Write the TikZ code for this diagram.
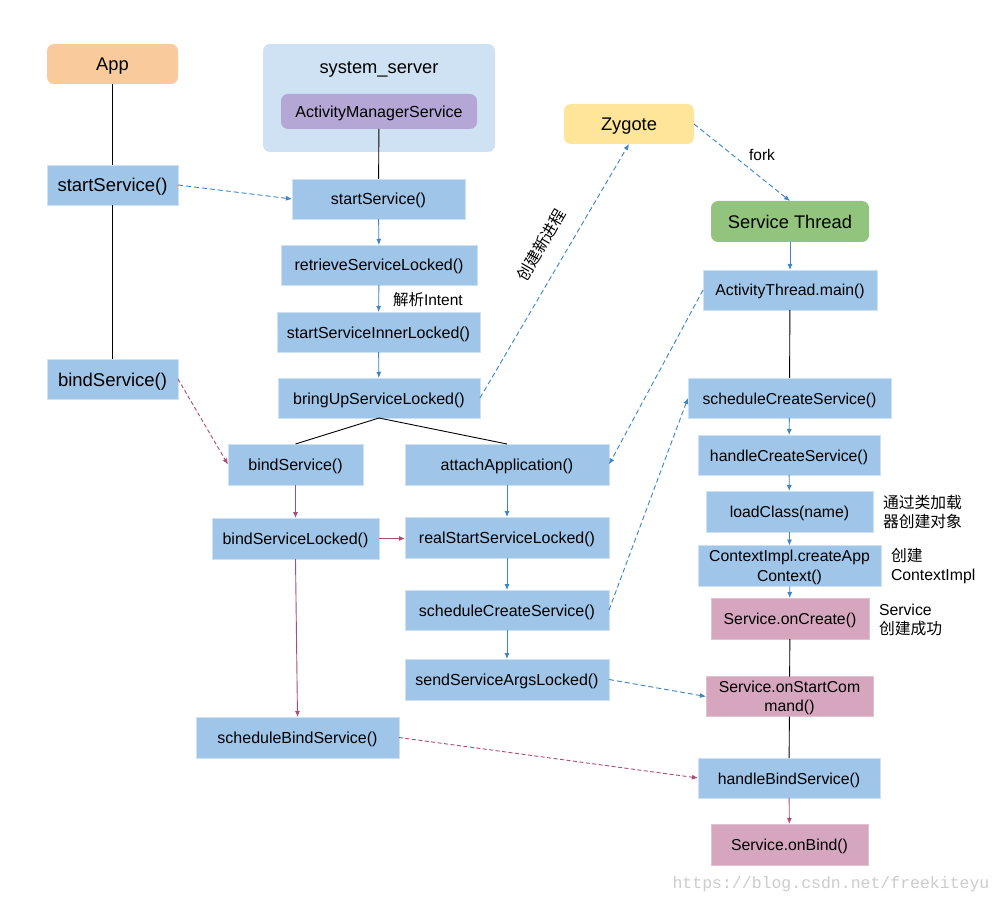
\documentclass[tikz,border=0pt]{standalone}
\usepackage{fontspec}
\setmainfont{Liberation Sans}
\newfontfamily\cjk{Noto Sans CJK SC}
\newfontfamily\wm{Liberation Mono}
\usetikzlibrary{arrows.meta}
\definecolor{boxblue}{HTML}{9FC5E8}
\definecolor{lightblue}{HTML}{CFE2F3}
\definecolor{orangebox}{HTML}{F9CB9C}
\definecolor{purplebox}{HTML}{B4A7D6}
\definecolor{yellowbox}{HTML}{FFE599}
\definecolor{greenbox}{HTML}{93C47D}
\definecolor{pinkbox}{HTML}{D5A6BD}
\definecolor{arrblue}{HTML}{3D85C6}
\definecolor{arrmag}{HTML}{A64D79}
\tikzset{
  every node/.style={inner sep=0pt, outer sep=0pt},
  hdsmall/.style={text height=14pt, text depth=2pt},
  hdbig/.style={text height=16pt, text depth=2pt},
  base/.style={fill=boxblue, draw=lightblue, line width=0.8pt, align=center},
  bx/.style={base, hdsmall, font=\fontsize{16}{18}\selectfont},
  rbx/.style={base, hdsmall, font=\fontsize{15.8}{20}\selectfont},
  multi/.style={base, text height=33pt, text depth=3pt, font=\fontsize{15.8}{19.5}\selectfont},
  pbx/.style={rbx, fill=pinkbox, draw=pinkbox!70!white},
  pmulti/.style={multi, fill=pinkbox, draw=pinkbox!70!white},
  big/.style={base, hdbig, font=\fontsize{18.5}{22}\selectfont},
  rnd/.style={hdbig, rounded corners=7pt, draw=none, align=center, font=\fontsize{18.3}{22}\selectfont},
  plain/.style={draw=black, line width=0.9pt},
  ab/.style={draw=arrblue, line width=0.9pt, -{Latex[length=6pt,width=5pt]}},
  am/.style={draw=arrmag, line width=0.9pt, -{Latex[length=6pt,width=5pt]}},
  dab/.style={ab, dash pattern=on 5pt off 3pt},
  dam/.style={am, dash pattern=on 4pt off 2.5pt},
  side/.style={align=left, anchor=west, font=\fontsize{15.8}{19}\selectfont},
}
\begin{document}
\begin{tikzpicture}[x=1pt,y=-1pt]
\useasboundingbox[fill=white] (0,0) rectangle (1002,904);
% top level
\node[rnd, fill=orangebox, minimum width=131pt, minimum height=40pt] (app) at (112.5,64) {App};
\node[rnd, fill=lightblue, minimum width=232pt, minimum height=108pt] (sys) at (379,98) {};
\node[hdbig, font=\fontsize{18.3}{22}\selectfont] (systxt) at (379,67) {system\_server};
\node[rnd, hdsmall, fill=purplebox, minimum width=196pt, minimum height=35pt, font=\fontsize{16}{18}\selectfont] (ams) at (379,111.5) {ActivityManagerService};
\node[rnd, fill=yellowbox, minimum width=130pt, minimum height=40pt] (zyg) at (629,124) {Zygote};
\node[rnd, fill=greenbox, minimum width=158pt, minimum height=41pt] (sth) at (790,221.5) {Service Thread};
% app column
\node[big, minimum width=131pt, minimum height=40pt] (appstart) at (112.5,185) {startService()};
\node[big, minimum width=131pt, minimum height=40pt] (appbind) at (112.5,379) {bindService()};
% middle column
\node[bx, minimum width=173pt, minimum height=40pt] (ss) at (378.5,199) {startService()};
\node[bx, minimum width=196pt, minimum height=40pt] (rsl) at (379,265) {retrieveServiceLocked()};
\node[bx, minimum width=203pt, minimum height=40pt] (sisl) at (378.5,332) {startServiceInnerLocked()};
\node[bx, minimum width=202pt, minimum height=40pt] (busl) at (379,398) {bringUpServiceLocked()};
\node[bx, minimum width=135pt, minimum height=41pt] (bs) at (295.5,464.5) {bindService()};
\node[bx, minimum width=204pt, minimum height=41pt] (aa) at (507,464.5) {attachApplication()};
\node[bx, minimum width=167pt, minimum height=41pt] (bsl) at (295.5,538.5) {bindServiceLocked()};
\node[bx, minimum width=204pt, minimum height=41pt] (rssl) at (507,537.5) {realStartServiceLocked()};
\node[bx, minimum width=204pt, minimum height=40pt] (scs1) at (507,610) {scheduleCreateService()};
\node[bx, minimum width=204pt, minimum height=41pt] (sal) at (507,679.5) {sendServiceArgsLocked()};
\node[bx, minimum width=203pt, minimum height=41pt] (sbs) at (297.5,737.5) {scheduleBindService()};
% right column
\node[rbx, minimum width=174pt, minimum height=40pt] (atm) at (790,290) {ActivityThread.main()};
\node[rbx, minimum width=203pt, minimum height=40pt] (scs2) at (789.5,398) {scheduleCreateService()};
\node[rbx, minimum width=182pt, minimum height=40pt] (hcs) at (789,455) {handleCreateService()};
\node[rbx, minimum width=167pt, minimum height=41pt] (lc) at (789.5,511.5) {loadClass(name)};
\node[multi, minimum width=183pt, minimum height=41pt] (ctx) at (789.5,566) {ContextImpl.createApp\\Context()};
\node[pbx, minimum width=158pt, minimum height=41pt] (onc) at (790,618.5) {Service.onCreate()};
\node[pmulti, minimum width=167pt, minimum height=40pt] (osc) at (789.5,696.5) {Service.onStartCom\\mand()};
\node[rbx, minimum width=182pt, minimum height=40pt] (hbs) at (789,778) {handleBindService()};
\node[pbx, minimum width=157pt, minimum height=41pt] (onb) at (789.5,844.5) {Service.onBind()};
% solid black lines
\draw[plain] (app) -- (appstart);
\draw[plain] (appstart) -- (appbind);
\draw[plain] (ams) -- (ss);
\draw[plain] (busl.south) -- (bs.north);
\draw[plain] (busl.south) -- (aa.north);
\draw[plain] (atm) -- (scs2);
\draw[plain] (onc) -- (osc);
\draw[plain] (osc) -- (hbs);
% blue arrows
\draw[ab] (ss) -- (rsl);
\draw[ab] (rsl) -- (sisl);
\draw[ab] (sisl) -- (busl);
\draw[ab] (aa) -- (rssl);
\draw[ab] (rssl) -- (scs1);
\draw[ab] (scs1) -- (sal);
\draw[ab] (sth) -- (atm);
\draw[ab] (scs2) -- (hcs);
\draw[ab] (hcs) -- (lc);
\draw[ab] (lc) -- (ctx);
\draw[ab] (ctx) -- (onc);
% magenta arrows
\draw[am] (bs) -- (bsl);
\draw[am] (bsl.east) -- (rssl.west |- bsl.east);
\draw[am] (bsl.south) -- (sbs.north);
\draw[am] (hbs) -- (onb);
% dashed arrows
\draw[dab] (appstart.east) -- (ss.west);
\draw[dam] (appbind.east) -- (bs.west);
\draw[dab] (busl.east) -- (zyg.south);
\draw[dab] (zyg.east) -- (sth.north);
\draw[dab] (atm.west) -- (aa.east);
\draw[dab] (scs1.east) -- (scs2.west);
\draw[dab] (sal.east) -- (osc.west);
\draw[dam] (sbs.east) -- (hbs.west);
% labels
\node[font=\fontsize{15.5}{18}\selectfont] (fork) at (762,155) {fork};
\node[anchor=west, font=\fontsize{15.5}{18}\selectfont] (jx) at (393,300) {{\cjk 解析}Intent};
\node[rotate=60, font=\cjk\fontsize{16}{18}\selectfont] (cj) at (541,245) {创建新进程};
\node[side] (l1) at (883,512) {{\cjk 通过类加载}\\{\cjk 器创建对象}};
\node[side] (l2) at (891,566) {{\cjk 创建}\\ContextImpl};
\node[side] (l3) at (879,620) {Service\\{\cjk 创建成功}};
\node[font=\wm\fontsize{16.5}{18}\selectfont, text=black!20] (wmk) at (831,884) {https://blog.csdn.net/freekiteyu};
\end{tikzpicture}
\end{document}
